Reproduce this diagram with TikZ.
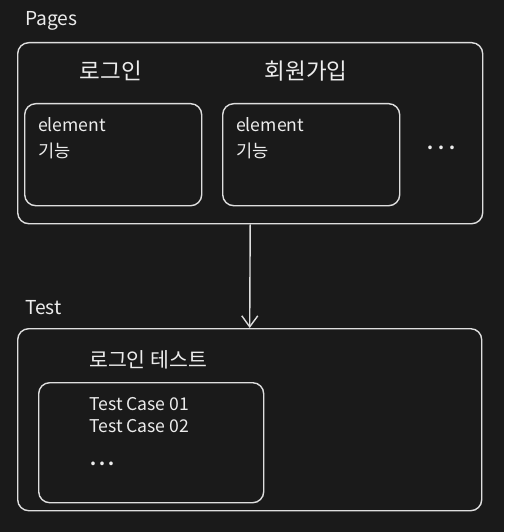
\documentclass[tikz,border=0pt]{standalone}
\usepackage{fontspec}
\setmainfont{Noto Sans CJK KR}
\usepackage{tikz}
\usetikzlibrary{arrows.meta,positioning,calc}
\definecolor{hintergrund}{HTML}{1A1A1A}
\definecolor{strich}{HTML}{DEDEDE}
\definecolor{schrift}{HTML}{ECECEC}

\begin{document}
\begin{tikzpicture}[x=1pt,y=-1pt,
  kasten/.style={draw=strich,line width=1.4pt,rounded corners=11pt,inner sep=0pt,anchor=north west},
  txt/.style={text=schrift,inner sep=0pt,anchor=base west,font=\fontsize{17.6}{21}\selectfont},
  gruppe/.style={txt,font=\fontsize{19.2}{23}\selectfont},
  punkte/.style={txt,font=\bfseries\fontsize{17}{20}\selectfont},
  titel/.style={text=schrift,inner sep=0pt,anchor=base,font=\fontsize{22.5}{27}\selectfont}]
%Hintergrund und Bildgroesse
\fill[hintergrund] (0,0) rectangle (504,532);
\useasboundingbox (0,0) rectangle (504,532);
%Pages
\node[gruppe] (pageslabel) at (25,26) {Pages};
\node[kasten,minimum width=465pt,minimum height=181pt] (pages) at (17,42) {};
\foreach \x/\name/\titeltext/\mx in {24/login/로그인/111, 222/join/회원가입/306}{
  \node[titel] (titel\name) at (\mx,80) {\titeltext};
  \node[kasten,minimum width=177pt,minimum height=102pt] (box\name) at (\x,103) {};
  \node[txt] (elem\name) at (\x+14,131) {element};
  \node[txt] (func\name) at (\x+14,157) {기능};
}
\node[punkte] (pagesmore) at (427,149) {.\kern5pt.\kern5pt.};
%Test
\node[gruppe] (testlabel) at (25,314) {Test};
\node[kasten,minimum width=464pt,minimum height=182pt] (test) at (17,328) {};
\node[txt,font=\fontsize{20.5}{25}\selectfont] (titeltest) at (89,367) {로그인 테스트};
\node[kasten,minimum width=225pt,minimum height=120pt] (cases) at (38,382) {};
\node[txt] (case1) at (89,410) {Test Case 01};
\node[txt] (case2) at (89,432) {Test Case 02};
\node[punkte] (casesmore) at (90,465) {.\kern3pt.\kern3pt.};
%Pfeil
\draw[strich,line width=1.4pt,-{Straight Barb[length=11pt,width=16pt,line width=1.4pt]}] (pages.south) -- (test.north);
\end{tikzpicture}
\end{document}
